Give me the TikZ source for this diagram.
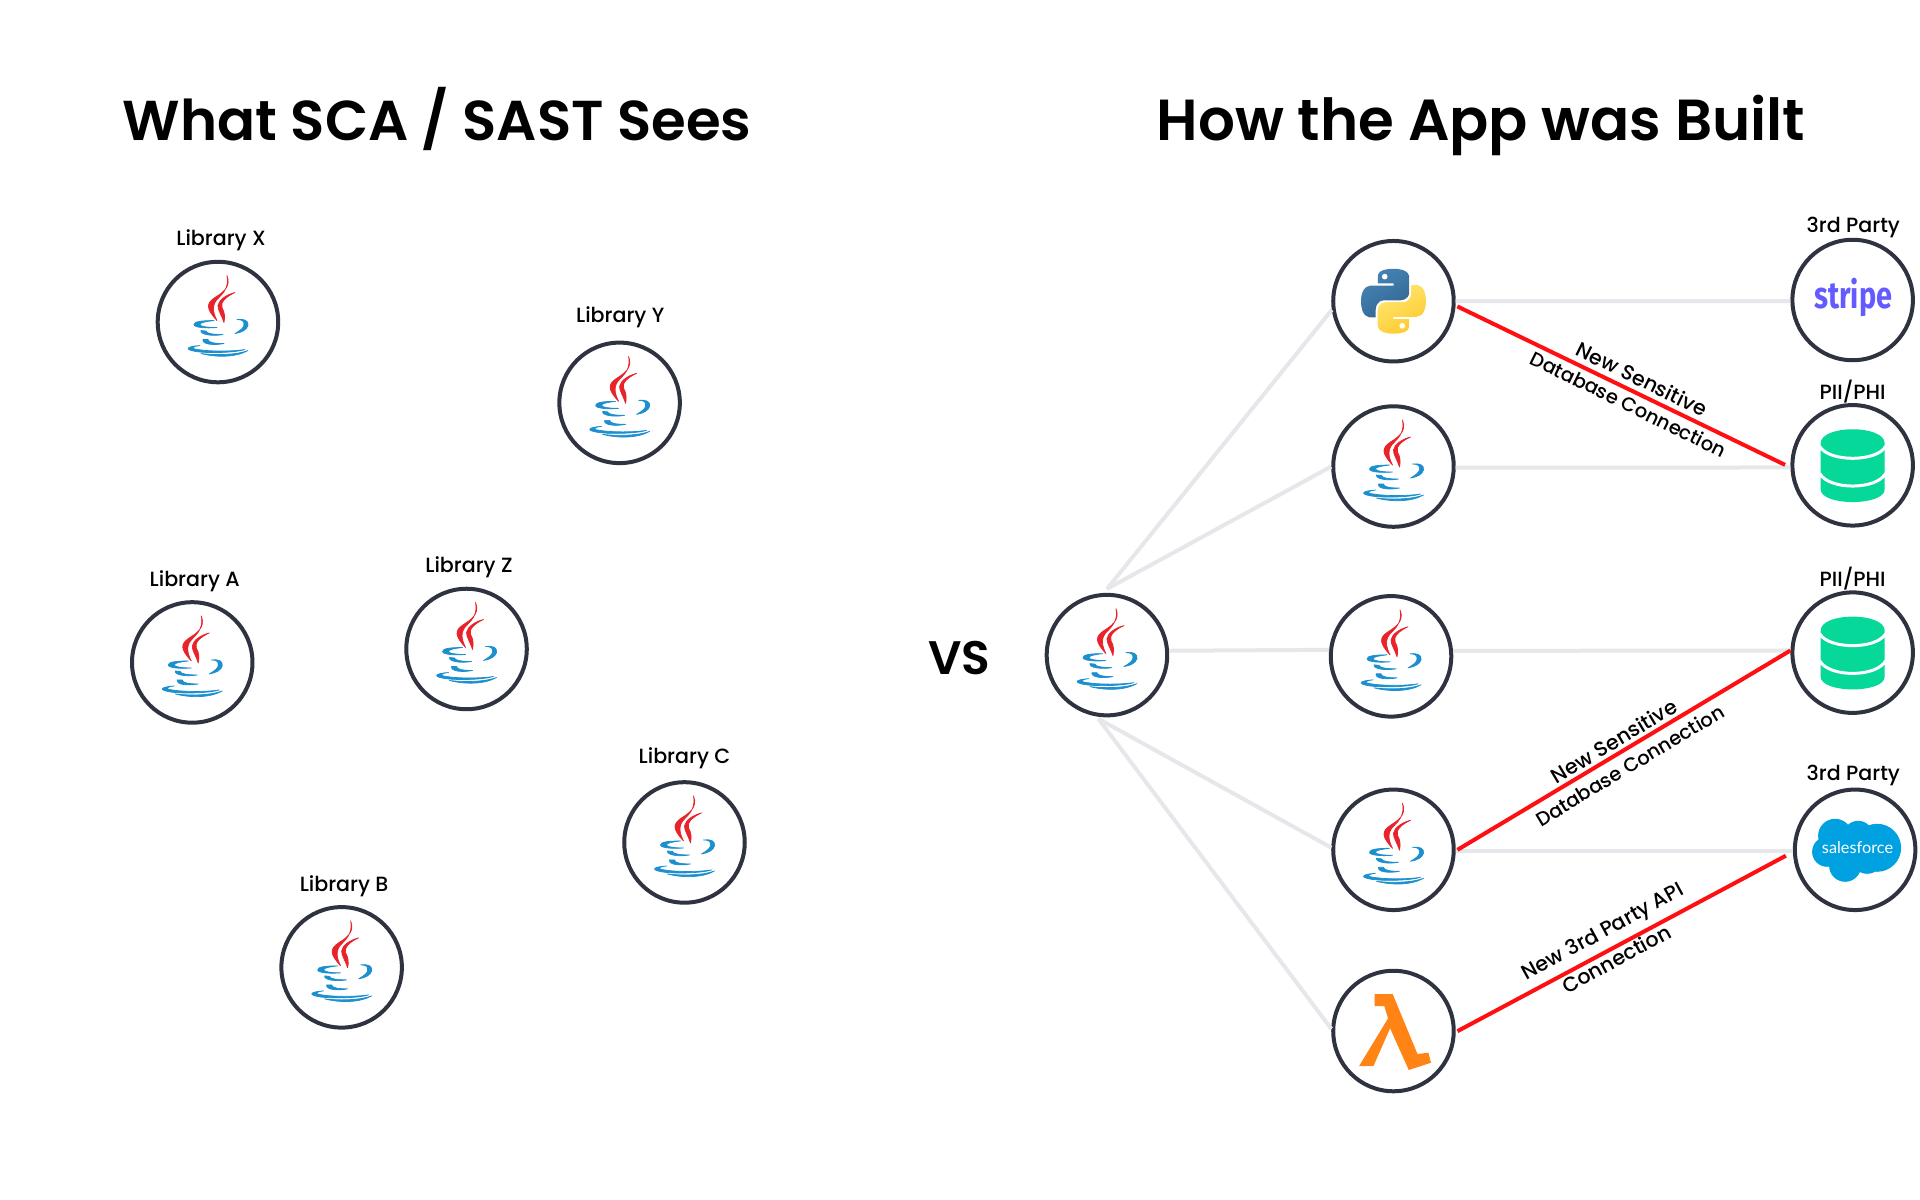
\documentclass[tikz,border=0pt]{standalone}
\usepackage{fontspec}
\setmainfont{Poppins}[BoldFont=Poppins SemiBold]
\newfontfamily\medfont{Poppins Medium}
\newfontfamily\stripefont{Fira Sans}[BoldFont=Fira Sans Bold]
\newfontfamily\sfcloudfont{Lato}
\usetikzlibrary{calc}
\definecolor{ringc}{HTML}{2F3340}
\definecolor{greyc}{HTML}{E6E7EA}
\definecolor{redc}{HTML}{FF0F12}
\definecolor{javared}{HTML}{E8232A}
\definecolor{javablue}{HTML}{1C8FCF}
\definecolor{dbgreen}{HTML}{05D899}
\definecolor{lambdac}{HTML}{FF8415}
\definecolor{sfblue}{HTML}{00A1E0}
\definecolor{stripec}{HTML}{635BFF}
\definecolor{HB1}{HTML}{4584B6}
\definecolor{HB2}{HTML}{33668F}
\definecolor{HY1}{HTML}{FFE873}
\definecolor{HY2}{HTML}{FFC92E}
\tikzset{
  ring/.style={circle,draw=ringc,line width=4pt,fill=white,minimum size=120.5pt,inner sep=0pt},
  greyline/.style={draw=greyc,line width=4pt},
  redline/.style={draw=redc,line width=4pt},
  titletext/.style={text=black,inner sep=0pt,anchor=base},
  vstext/.style={font=\fontsize{47}{50}\selectfont\bfseries,text=black,inner sep=0pt},
  libtext/.style={font=\fontsize{20.6}{22}\selectfont\medfont,text=black,inner sep=0pt},
  edgetext/.style={font=\fontsize{20.6}{22}\selectfont\medfont,text=black,inner sep=0pt},
  edgelong/.style={font=\fontsize{19.5}{22}\selectfont\medfont,text=black,inner sep=0pt},
  javalogo/.pic={
    \begin{scope}[x=1pt,y=-1pt,yshift=-1.5pt,line width=0.7pt,line join=round]
      \filldraw[javared] (9,-48) .. controls (14,-36) and (3,-30) .. (-3,-26) .. controls (-12,-20) and (-12,-15) .. (-1,-3)
        .. controls (-5,-11) and (-7,-19) .. (1,-26) .. controls (7,-32) and (11,-38) .. (9,-48) -- cycle;
      \filldraw[javared] (17,-31) .. controls (9,-29) and (1,-24) .. (0,-18) .. controls (0,-13) and (3,-10) .. (6,-1)
        .. controls (7,-6) and (7,-11) .. (4,-16) .. controls (2,-21) and (8,-27) .. (17,-31) -- cycle;
      \filldraw[javablue] (-4,-3) .. controls (-16,-3) and (-24,-2) .. (-24,1) .. controls (-24,4) and (-12,5) .. (-1,4)
        .. controls (-10,4) and (-18,3) .. (-18,1) .. controls (-18,-1) and (-12,-2) .. (-4,-3) -- cycle;
      \filldraw[javablue] (19,-4) .. controls (26,-5) and (31,-3) .. (30,2) .. controls (29,6) and (24,9) .. (17,10)
        .. controls (22,7) and (27,4) .. (26,0) .. controls (26,-3) and (23,-4) .. (19,-4) -- cycle;
      \filldraw[javablue] (-17,7) .. controls (-18,11) and (-6,13) .. (5,11) .. controls (-4,11) and (-12,10) .. (-12,7.5) -- cycle;
      \filldraw[javablue] (-15,16) .. controls (-16,21) and (-4,22) .. (6,20) .. controls (-3,20) and (-10,19) .. (-10,16) -- cycle;
      \filldraw[javablue] (-18,22) .. controls (-32,23) and (-34,26) .. (-22,28) .. controls (-8,30) and (18,29) .. (27,26)
        .. controls (14,28) and (-8,28) .. (-20,26) .. controls (-28,25) and (-26,23) .. (-18,22) -- cycle;
      \filldraw[javablue] (-17,30) .. controls (-2,34) and (18,34) .. (30,27) .. controls (20,31) and (0,32) .. (-17,30) -- cycle;
    \end{scope}
  },
  pythonlogo/.pic={
    \begin{scope}[x=0.59pt,y=-0.59pt,shift={(-55,-55)}]
      \shade[left color=HB1,right color=HB2,shading angle=30]
        (54.9,0) .. controls (26.9,0) and (28.6,12.2) .. (28.6,12.2) -- (28.6,24.8) -- (55.3,24.8) -- (55.3,28.6) -- (18,28.6)
        .. controls (18,28.6) and (0,26.5) .. (0,54.9) .. controls (0,83.3) and (15.6,82.3) .. (15.6,82.3) -- (24.9,82.3) -- (24.9,69.1)
        .. controls (24.9,69.1) and (24.4,53.4) .. (40.3,53.4) -- (66.8,53.4) .. controls (66.8,53.4) and (81.7,53.6) .. (81.7,39) -- (81.7,14.9)
        .. controls (81.7,14.9) and (84.1,0) .. (54.9,0) -- cycle;
      \fill[white] (40.2,13.3) circle (4.8);
      \shade[left color=HY1,right color=HY2,shading angle=30]
        (55.1,110) .. controls (83.1,110) and (81.4,97.8) .. (81.4,97.8) -- (81.4,85.2) -- (54.7,85.2) -- (54.7,81.4) -- (92,81.4)
        .. controls (92,81.4) and (110,83.5) .. (110,55.1) .. controls (110,26.7) and (94.4,27.7) .. (94.4,27.7) -- (85.1,27.7) -- (85.1,40.9)
        .. controls (85.1,40.9) and (85.6,56.6) .. (69.7,56.6) -- (43.2,56.6) .. controls (43.2,56.6) and (28.3,56.4) .. (28.3,71) -- (28.3,95.1)
        .. controls (28.3,95.1) and (25.9,110) .. (55.1,110) -- cycle;
      \fill[white] (69.8,96.7) circle (4.8);
    \end{scope}
  },
  dblogo/.pic={
    \begin{scope}[x=1pt,y=-1pt]
      \fill[dbgreen] (-32,-22) .. controls (-32,-40.7) and (32,-40.7) .. (32,-22)
        -- (32,24) .. controls (32,41) and (-32,41) .. (-32,24) -- cycle;
      \draw[white,line width=3pt] (-33,-19) .. controls (-24,-3) and (24,-3) .. (33,-19);
      \draw[white,line width=3pt] (-33,8) .. controls (-24,25) and (24,25) .. (33,8);
    \end{scope}
  },
  lambdalogo/.pic={
    \begin{scope}[x=1pt,y=-1pt]
      \fill[lambdac] (-18.8,-37) -- (-0.8,-37) -- (24,23) -- (35,21.7) -- (37.5,31.7) -- (15.3,39) -- (-3.4,-2.7)
        -- (-20,35) -- (-34.4,35) -- (-5.4,-12.7) -- (-9.2,-25) -- (-18.8,-25) -- cycle;
    \end{scope}
  },
  cloudlogo/.pic={
    \begin{scope}[x=1pt,y=-1pt]
      \fill[sfblue] (-20,-14) circle (17) (3,-14) circle (15) (22,-2) circle (24) (-28,2) circle (15)
        (-10,16) circle (16) (12,8) circle (16) (-10,0) circle (20);
    \end{scope}
  }
}
\begin{document}
\begin{tikzpicture}[x=1.2244898pt,y=-1.2244898pt]
\useasboundingbox (0,0) rectangle (1568,980);
\node[titletext,font=\fontsize{56.2}{60}\selectfont\bfseries] (t1) at (357,114.5) {What SCA / SAST Sees};
\node[titletext,font=\fontsize{57.9}{60}\selectfont\bfseries] (t2) at (1209.5,114.5) {How the App was Built};
\node[vstext] (vs) at (783.5,537) {VS};
\coordinate (mainN) at (904,481);
\coordinate (mainS) at (897,587);
\path
  (178,263) coordinate (pX) (506,329) coordinate (pY) (157,541) coordinate (pA)
  (381,530) coordinate (pZ) (559,688) coordinate (pC) (279,790) coordinate (pB)
  (904,535) coordinate (pmain) (1138,246) coordinate (ppy) (1138,381) coordinate (pjb)
  (1136,536) coordinate (pjc) (1138,694) coordinate (pjd) (1138,842) coordinate (plam)
  (1513,245) coordinate (pst) (1513,380) coordinate (pdba) (1513,533) coordinate (pdbb)
  (1515,694) coordinate (psf);
\foreach \n in {X,Y,A,Z,C,B}{\node[ring] (lib\n) at (p\n) {};}
\node[ring] (main) at (pmain) {};
\node[ring] (py) at (ppy) {};
\node[ring] (jb) at (pjb) {};
\node[ring] (jc) at (pjc) {};
\node[ring] (jd) at (pjd) {};
\node[ring] (lam) at (plam) {};
\node[ring] (st) at (pst) {};
\node[ring] (dba) at (pdba) {};
\node[ring] (dbb) at (pdbb) {};
\node[ring] (sf) at (psf) {};
\draw[greyline] (mainN) -- (py.188);
\draw[greyline] (mainN) -- (jb.180);
\draw[greyline] (main.4) -- (jc.174);
\draw[greyline] (mainS) -- (jd.178);
\draw[greyline] (mainS) -- (lam.178);
\draw[greyline] (py.0) -- (st.181);
\draw[greyline] (jb.-1) -- (dba.182);
\draw[greyline] (jc.5) -- (dbb.178);
\draw[greyline] (jd.-1) -- (sf.181);
\draw[redline,shorten <=2pt,shorten >=6pt] (py.-4) -- (dba.182);
\draw[redline,shorten <=2pt] (jd.-1) -- (dbb.178);
\draw[redline,shorten <=2pt,shorten >=8pt] (lam.-1) -- (sf.182);
\foreach \n in {libX,libY,libA,libZ,libC,libB,main,jb,jc,jd}{\pic at (\n) {javalogo};}
\pic at (py) {pythonlogo};
\pic at (dba) {dblogo};
\pic at (dbb) {dblogo};
\pic at (lam) {lambdalogo};
\pic at (sf) {cloudlogo};
\node[font=\fontsize{34}{36}\selectfont\bfseries\stripefont,text=stripec,inner sep=0pt,xscale=0.85,yscale=1.1] (stripelabel) at (1513.5,243) {stripe};
\node[font=\fontsize{16.3}{19}\selectfont\sfcloudfont,text=white,inner sep=0pt] (sflabel) at (1517,692) {salesforce};
\node[libtext] (lX) at (180.5,196) {Library X};
\node[libtext] (lY) at (506.5,259) {Library Y};
\node[libtext] (lA) at (159,475) {Library A};
\node[libtext] (lZ) at (383,463) {Library Z};
\node[libtext] (lC) at (559,619) {Library C};
\node[libtext] (lB) at (281,724) {Library B};
\node[libtext] (la) at (1513.5,186) {3rd Party};
\node[libtext] (lb) at (1513,319.5) {PII/PHI};
\node[libtext] (lc) at (1513,472.5) {PII/PHI};
\node[libtext] (ld) at (1513.5,633) {3rd Party};
\node[edgetext,rotate=-26.2] (ea) at (1341,309.5) {New Sensitive};
\node[edgelong,rotate=-26.2] (eb) at (1330,330) {Database Connection};
\node[edgetext,rotate=31] (ec) at (1318,605) {New Sensitive};
\node[edgelong,rotate=31] (ed) at (1331,625) {Database Connection};
\node[edgetext,rotate=28.7] (ee) at (1309.5,762) {New 3rd Party API};
\node[edgetext,rotate=28.7] (ef) at (1320,783) {Connection};
\end{tikzpicture}
\end{document}
